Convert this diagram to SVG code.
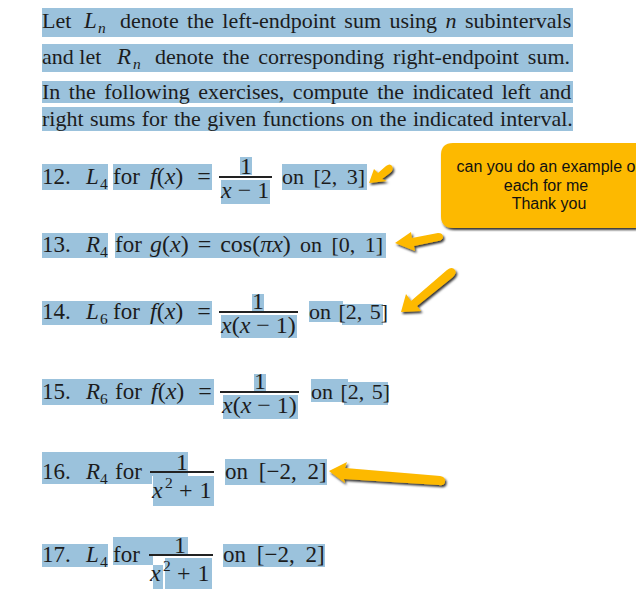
<svg xmlns="http://www.w3.org/2000/svg" width="636" height="603" viewBox="0 0 636 603">
<style>
.h{fill:#9bc2dc}
text{font-family:"Liberation Serif","Times New Roman",serif;font-size:22px;fill:#1c1c1c}
.i{font-style:italic}
.m{font-size:24px}
.l{font-size:23px}
.s{font-size:15.5px}
.b{stroke:#222;stroke-width:2.2;fill:none}
.c text{font-family:"Liberation Sans",Arial,sans-serif;font-size:16px;fill:#111;text-anchor:middle}
</style>
<defs>
<filter id="sh" x="-30%" y="-30%" width="170%" height="170%"><feDropShadow dx="1.5" dy="2" stdDeviation="1.2" flood-color="#000" flood-opacity=".8"/></filter>
</defs>
<g id="intro">
<rect class="h" x="42" y="8" width="531" height="29"/>
<rect class="h" x="42" y="44" width="531" height="28"/>
<rect class="h" x="42" y="81" width="531" height="22"/>
<rect class="h" x="42" y="107" width="531" height="24"/>
<text x="42" y="28">Let</text><text x="84" y="28" class="i l">L</text><text x="98" y="33" class="i s">n</text><text x="120" y="28" word-spacing="2.9">denote the left-endpoint sum using <tspan class="i">n</tspan> subintervals</text>
<text x="42" y="64">and let</text><text x="117" y="64" class="i l">R</text><text x="133" y="69" class="i s">n</text><text x="155" y="64" word-spacing="3.4">denote the corresponding right-endpoint sum.</text>
<text x="42" y="99" word-spacing="3">In the following exercises, compute the indicated left and</text>
<text x="42" y="126" word-spacing="1">right sums for the given functions on the indicated interval.</text>
</g>
<g id="ex12">
<rect class="h" x="42" y="164" width="66" height="26"/><rect class="h" x="113" y="164" width="99" height="26"/>
<rect class="h" x="240" y="157" width="12" height="18"/><rect class="h" x="221" y="180" width="49" height="24"/><rect class="h" x="282" y="164" width="85" height="26"/>
<text x="42" y="184" class="l">12.</text><text x="86" y="184" class="i l">L</text><text x="100" y="189" class="s">4</text>
<text x="113" y="184" class="l">for</text><text x="150" y="184" class="m" word-spacing="8"><tspan class="i">f</tspan>(<tspan class="i">x</tspan>) =</text>
<text x="240" y="174" class="m">1</text><path class="b" d="M219 177H272"/><text x="221" y="198" class="m"><tspan class="i">x</tspan> − 1</text>
<text x="282" y="184" word-spacing="4">on [2, 3]</text>
</g>
<g id="ex13">
<rect class="h" x="42" y="233" width="66" height="25"/><rect class="h" x="115" y="233" width="271" height="25"/>
<text x="42" y="252" class="l">13.</text><text x="86" y="252" class="i l">R</text><text x="100" y="257" class="s">4</text>
<text x="115" y="252" class="l">for</text><text x="150" y="252" class="m" word-spacing="3"><tspan class="i">g</tspan>(<tspan class="i">x</tspan>) = cos(<tspan class="i">πx</tspan>)</text>
<text x="300" y="252" word-spacing="4">on [0, 1]</text>
</g>
<g id="ex14">
<rect class="h" x="42" y="301" width="170" height="24"/><rect class="h" x="252" y="294" width="12" height="18"/><rect class="h" x="221" y="315" width="76" height="23"/>
<rect class="h" x="309" y="301" width="34" height="21"/><rect class="h" x="342" y="304" width="41" height="21"/>
<text x="42" y="319" class="l">14.</text><text x="86" y="319" class="i l">L</text><text x="100" y="324" class="s">6</text>
<text x="113" y="319" class="l">for</text><text x="150" y="319" class="m" word-spacing="8"><tspan class="i">f</tspan>(<tspan class="i">x</tspan>) =</text>
<text x="252" y="309" class="m">1</text><path class="b" d="M219 312H298"/><text x="221" y="333" class="m"><tspan class="i">x</tspan>(<tspan class="i">x</tspan> − 1)</text>
<text x="309" y="319" word-spacing="2">on [2, 5]</text>
</g>
<g id="ex15">
<rect class="h" x="42" y="379" width="172" height="26"/><rect class="h" x="254" y="374" width="12" height="18"/><rect class="h" x="223" y="395" width="75" height="24"/>
<rect class="h" x="311" y="379" width="37" height="23"/><rect class="h" x="344" y="382" width="44" height="23"/>
<text x="42" y="399" class="l">15.</text><text x="86" y="399" class="i l">R</text><text x="100" y="404" class="s">6</text>
<text x="115" y="399" class="l">for</text><text x="151" y="399" class="m" word-spacing="8"><tspan class="i">f</tspan>(<tspan class="i">x</tspan>) =</text>
<text x="254" y="389" class="m">1</text><path class="b" d="M220 392H299"/><text x="222" y="413" class="m"><tspan class="i">x</tspan>(<tspan class="i">x</tspan> − 1)</text>
<text x="311" y="399" word-spacing="2">on [2, 5]</text>
</g>
<g id="ex16">
<rect class="h" x="42" y="452" width="146" height="24"/><rect class="h" x="42" y="475" width="110" height="9"/><rect class="h" x="153" y="476" width="61" height="30"/><rect class="h" x="225" y="459" width="102" height="26"/>
<text x="42" y="479" class="l">16.</text><text x="86" y="479" class="i l">R</text><text x="100" y="484" class="s">4</text>
<text x="115" y="479" class="l">for</text>
<text x="176" y="470" class="m">1</text><path class="b" d="M150 472H214"/><text x="152" y="498" class="i m">x</text><text x="165" y="488" class="s">2</text><text x="179" y="498" class="m" word-spacing="1">+ 1</text>
<text x="225" y="479" class="l" word-spacing="5">on [−2, 2]</text>
</g>
<g id="ex17">
<rect class="h" x="42" y="544" width="66" height="23"/><rect class="h" x="113" y="537" width="40" height="28"/><rect class="h" x="153" y="537" width="35" height="18"/>
<rect class="h" x="153" y="565" width="10" height="24"/><rect class="h" x="165" y="558" width="47" height="31"/><rect class="h" x="223" y="544" width="102" height="23"/>
<text x="42" y="562" class="l">17.</text><text x="86" y="562" class="i l">L</text><text x="100" y="567" class="s">4</text>
<text x="113" y="562" class="l">for</text>
<text x="174" y="553" class="m">1</text><path class="b" d="M149 555H213"/><text x="150" y="581" class="i m">x</text><text x="163" y="571" class="s">2</text><text x="177" y="581" class="m" word-spacing="1">+ 1</text>
<text x="223" y="562" class="l" word-spacing="5">on [−2, 2]</text>
</g>
<g id="note" filter="url(#sh)">
<path fill="#fdb900" d="M636 143H453Q441 143 441 155V216Q441 228 453 228H636Z"/>
</g>
<g id="note-text" class="c">
<text x="546" y="172">can you do an example o</text>
<text x="546" y="191">each for me</text>
<text x="549" y="209">Thank you</text>
</g>
<g id="connectors" filter="url(#sh)">
<g fill="#fdb900">
<path d="M369 183L374 169L378 173L386 166Q390 163 392 166Q394 170 390 173L382 179L387 181Z"/>
<path d="M395 243L411 232L412 238L438 233Q443 233 443 237Q443 240 438 241L414 246L415 251Z"/>
<path d="M401 312L406 294L411 301L447 270Q452 266 455 270Q457 273 453 277L417 306L421 311Z"/>
<path d="M329 471L347 462L345 468L440 476Q446 477 445 482Q444 486 439 485L344 479L345 483Z"/>
</g>
</g>
</svg>
